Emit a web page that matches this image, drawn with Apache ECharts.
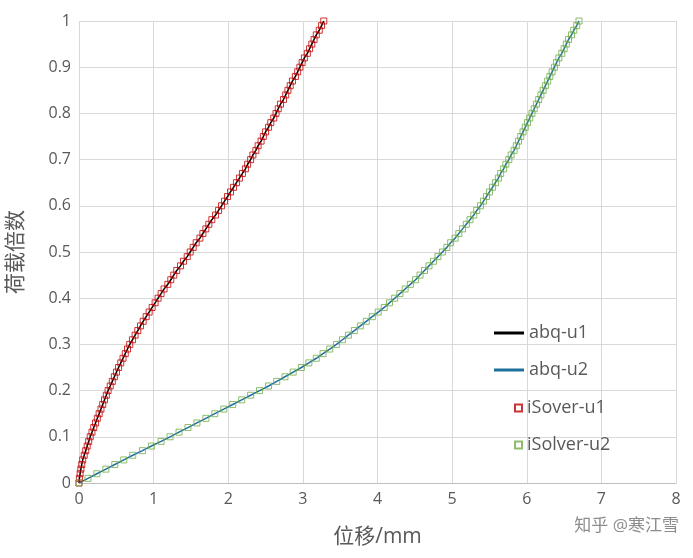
<!DOCTYPE html>
<html>
<head>
<meta charset="utf-8">
<script src="https://cdn.jsdelivr.net/npm/echarts@6/dist/echarts.min.js"></script>
<style>html,body{margin:0;padding:0;background:#fff}#main{width:693px;height:558px}</style>
</head>
<body>
<div id="main"></div>
<script>
// load factor steps 0, 0.01, ... 1
var loads = [];
for (var i = 0; i <= 100; i++) loads.push(i / 100);

var u1 = [0, .005, .015, .025, .037, .05, .07, .09, .11, .13, .15,
  .174, .198, .222, .246, .27, .294, .318, .342, .366, .39,
  .418, .446, .474, .502, .53, .56, .59, .62, .65, .68,
  .716, .752, .788, .824, .86, .90, .94, .98, 1.02, 1.06,
  1.10, 1.14, 1.19, 1.23, 1.27, 1.31, 1.36, 1.40, 1.45, 1.49,
  1.53, 1.57, 1.62, 1.66, 1.70, 1.74, 1.78, 1.83, 1.87, 1.91,
  1.95, 1.99, 2.03, 2.07, 2.11, 2.15, 2.19, 2.23, 2.26, 2.30,
  2.33, 2.37, 2.40, 2.44, 2.47, 2.50, 2.54, 2.57, 2.61, 2.64,
  2.67, 2.70, 2.74, 2.77, 2.80, 2.83, 2.86, 2.90, 2.93, 2.96,
  2.99, 3.02, 3.06, 3.09, 3.12, 3.15, 3.18, 3.22, 3.25, 3.28];

var u2 = [0, .12, .24, .36, .48, .60, .72, .85, .97, 1.10, 1.22,
  1.34, 1.46, 1.58, 1.70, 1.82, 1.94, 2.06, 2.18, 2.30, 2.42,
  2.54, 2.65, 2.76, 2.87, 2.98, 3.08, 3.18, 3.27, 3.36, 3.45,
  3.53, 3.61, 3.69, 3.77, 3.85, 3.93, 4.01, 4.09, 4.16, 4.23,
  4.30, 4.37, 4.44, 4.51, 4.57, 4.63, 4.69, 4.75, 4.81, 4.87,
  4.93, 4.98, 5.04, 5.09, 5.14, 5.19, 5.24, 5.29, 5.33, 5.38,
  5.42, 5.46, 5.50, 5.54, 5.58, 5.62, 5.65, 5.69, 5.72, 5.76,
  5.79, 5.83, 5.86, 5.89, 5.92, 5.95, 5.98, 6.01, 6.04, 6.07,
  6.10, 6.13, 6.16, 6.19, 6.22, 6.25, 6.28, 6.31, 6.34, 6.37,
  6.40, 6.43, 6.47, 6.50, 6.53, 6.56, 6.60, 6.63, 6.67, 6.70];

function pairs(xs) {
  return xs.map(function (x, i) { return [x, loads[i]]; });
}

var chart = echarts.init(document.getElementById('main'));
var font = 'Open Sans, Noto Sans CJK SC, sans-serif';
var axisText = { color: '#595959', fontSize: 16, fontFamily: font };
var legendText = { color: '#595959', fontSize: 18, fontFamily: font, lineHeight: 20 };

var option = {
  animation: false,
  grid: { left: 79, right: 17, top: 21, bottom: 75, outerBoundsMode: 'none' },
  xAxis: {
    type: 'value', min: 0, max: 8, interval: 1,
    name: '位移/mm', nameLocation: 'middle', nameGap: 44,
    nameTextStyle: { color: '#595959', fontSize: 21, fontFamily: font },
    axisLine: { lineStyle: { color: '#bfbfbf' } },
    axisTick: { show: false },
    axisLabel: axisText,
    splitLine: { lineStyle: { color: '#d9d9d9' } }
  },
  yAxis: {
    type: 'value', min: 0, max: 1, interval: 0.1,
    name: '荷载倍数', nameLocation: 'middle', nameGap: 52,
    nameTextStyle: { color: '#595959', fontSize: 21, fontFamily: font },
    axisLine: { show: false },
    axisTick: { show: false },
    axisLabel: axisText,
    splitLine: { lineStyle: { color: '#d9d9d9' } }
  },
  legend: [{
    orient: 'vertical', left: 489, top: 318, itemWidth: 30, itemHeight: 3, itemGap: 17,
    icon: 'rect', textStyle: legendText,
    data: ['abq-u1', 'abq-u2']
  }, {
    orient: 'vertical', left: 509, top: 393, itemWidth: 7, itemHeight: 7, itemGap: 17,
    textStyle: legendText,
    data: ['iSover-u1', 'iSolver-u2']
  }],
  graphic: [{
    type: 'text', right: 14, top: 518,
    style: { text: '知乎 @寒江雪', fill: '#8c8c8c', fontSize: 17, fontFamily: font }
  }],
  series: [
    { name: 'abq-u1', type: 'line', data: pairs(u1), symbol: 'none',
      lineStyle: { color: '#000', width: 1.5 }, itemStyle: { color: '#000' } },
    { name: 'abq-u2', type: 'line', data: pairs(u2), symbol: 'none',
      lineStyle: { color: '#1f6f9c', width: 1.5 }, itemStyle: { color: '#1f6f9c' } },
    { name: 'iSover-u1', type: 'scatter', data: pairs(u1), symbol: 'rect', symbolSize: 6, z: 3,
      itemStyle: { color: 'rgba(255,255,255,0)', borderColor: '#c00000', borderWidth: 1 } },
    { name: 'iSolver-u2', type: 'scatter', data: pairs(u2), symbol: 'rect', symbolSize: 6, z: 3,
      itemStyle: { color: 'rgba(255,255,255,0)', borderColor: '#70ad47', borderWidth: 1 } }
  ]
};
chart.setOption(option);
</script>
</body>
</html>
